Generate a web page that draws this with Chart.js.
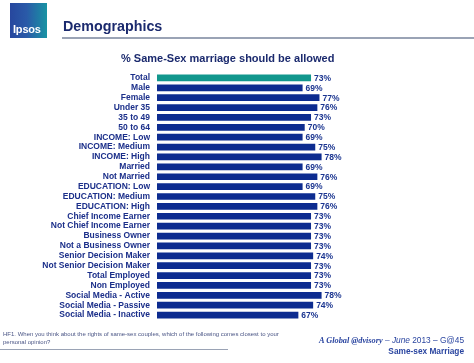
<!DOCTYPE html>
<html><head><meta charset="utf-8">
<script src="https://cdn.jsdelivr.net/npm/chart.js@4"></script>
<style>
html,body{margin:0;padding:0;background:#fff;width:474px;height:363px;overflow:hidden;font-family:"Liberation Sans",Arial,sans-serif}
#wrap{position:relative;width:474px;height:363px}
canvas{position:absolute;left:0;top:0}
.abs{position:absolute;white-space:nowrap}
#logo{left:10px;top:3px;width:37px;height:35px;background:linear-gradient(90deg,#27479e 0%,#2a5aa8 45%,#1893a3 100%)}
#logo span{position:absolute;left:3px;bottom:3px;color:#fff;font-weight:bold;font-size:11px;letter-spacing:-0.2px}
#title{left:63px;top:18px;font-size:14.3px;font-weight:bold;color:#1b2a6e}
#rule{left:62px;top:37px;width:412px;height:2px;background:#9aa3b5}
#sub{left:121px;top:52px;font-size:11px;font-weight:bold;color:#1b2a6e}
#foot{left:3px;top:331px;font-size:6px;line-height:7.5px;color:#4a5585;width:300px;white-space:normal}
#frule{left:0;top:349px;width:228px;height:1px;background:#9aa3b5}
#src{right:10px;top:335px;font-size:8.3px;color:#2a45a0;text-align:right;line-height:11px}
</style></head>
<body><div id="wrap">
<canvas id="c" width="474" height="363"></canvas>
<div id="logo" class="abs"><span>Ipsos</span></div>
<div id="title" class="abs">Demographics</div>
<div id="rule" class="abs"></div>
<div id="sub" class="abs">% Same-Sex marriage should be allowed</div>
<div id="foot" class="abs">HF1. When you think about the rights of same-sex couples, which of the following comes closest to your personal opinion?</div>
<div id="frule" class="abs"></div>
<div id="src" class="abs"><span style="font-family:'Liberation Serif',serif;font-style:italic;font-weight:bold">A Global @dvisory</span> <i>– June</i> 2013 – G@45<br><b>Same-sex Marriage</b></div>
</div>
<script>
const categories = ["Total","Male","Female","Under 35","35 to 49","50 to 64","INCOME: Low","INCOME: Medium","INCOME: High","Married","Not Married","EDUCATION: Low","EDUCATION: Medium","EDUCATION: High","Chief Income Earner","Not Chief Income Earner","Business Owner","Not a Business Owner","Senior Decision Maker","Not Senior Decision Maker","Total Employed","Non Employed","Social Media - Active","Social Media - Passive","Social Media - Inactive"];
const values = [73,69,77,76,73,70,69,75,78,69,76,69,75,76,73,73,73,73,74,73,73,73,78,74,67];
const colors = categories.map((c,i)=> i===0 ? "#12978d" : "#0d2c90");

const valueLabels = {
  id:'valueLabels',
  afterDatasetsDraw(chart){
    const ctx = chart.ctx;
    const meta = chart.getDatasetMeta(0);
    ctx.save();
    ctx.font = "bold 8.5px 'Liberation Sans', Arial, sans-serif";
    ctx.fillStyle = "#1b3590";
    ctx.textBaseline = "middle";
    meta.data.forEach((bar,i)=>{
      ctx.fillText(values[i] + "%", bar.x + 3, bar.y + 0.5);
    });
    ctx.restore();
  }
};

new Chart(document.getElementById('c'), {
  type:'bar',
  data:{labels:categories, datasets:[{data:values, backgroundColor:colors, barPercentage:0.68, categoryPercentage:1}]},
  options:{
    indexAxis:'y', responsive:false, animation:false,
    layout:{padding:{left:0,right:106,top:73,bottom:43}},
    plugins:{legend:{display:false},tooltip:{enabled:false}},
    scales:{
      x:{display:false,min:0,max:100},
      y:{
        grid:{display:false, drawTicks:false}, border:{display:false},
        afterFit(s){ s.width = 157; },
        ticks:{padding:7, autoSkip:false, color:"#1b2f8a", font:{family:"'Liberation Sans', Arial, sans-serif", size:8.5, weight:'bold'}}
      }
    }
  },
  plugins:[valueLabels]
});
</script>
</body></html>
